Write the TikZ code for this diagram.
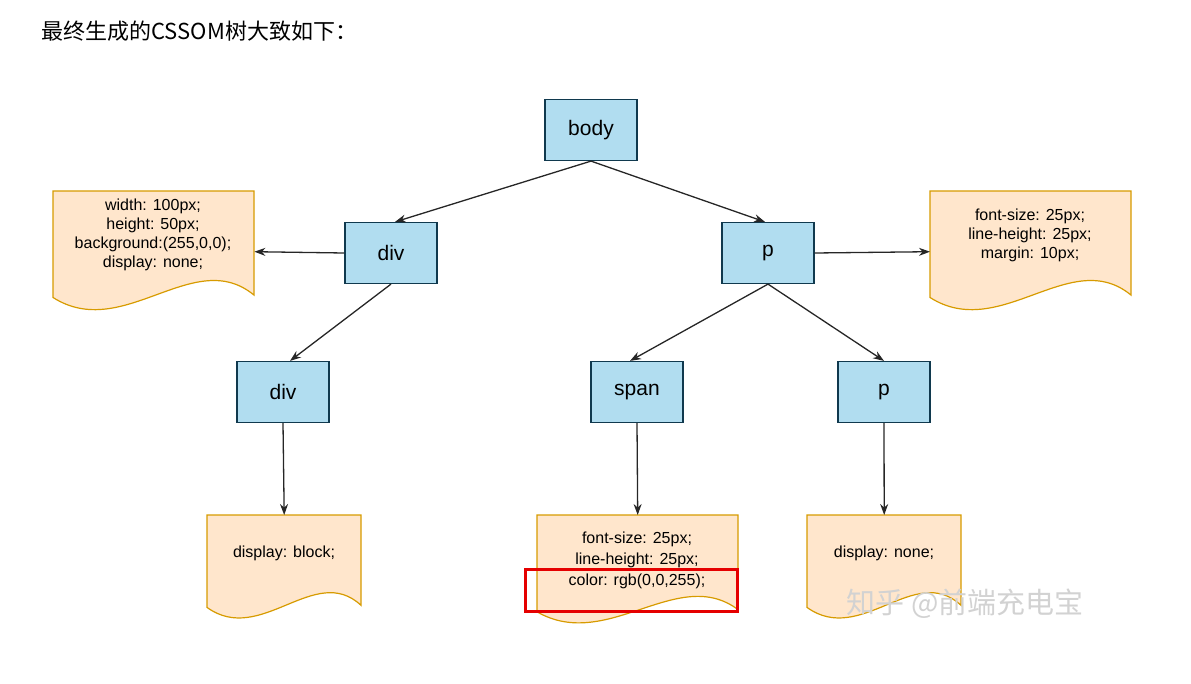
\documentclass[tikz,border=0pt]{standalone}
\usepackage{fontspec}
\setmainfont{Liberation Sans}
\newfontfamily\cjk{Noto Sans CJK SC}
\usetikzlibrary{arrows.meta}
\definecolor{bfill}{HTML}{B1DDF0}
\definecolor{bdraw}{HTML}{10394E}
\definecolor{dfill}{HTML}{FFE6CC}
\definecolor{ddraw}{HTML}{D79B00}
\tikzset{
  bx/.style={draw=bdraw,fill=bfill,line width=1.2pt,minimum width=92pt,minimum height=61pt,inner sep=0pt,font=\fontsize{21}{24}\selectfont},
  dc/.style={inner sep=0pt,font=\fontsize{16}{19}\selectfont,align=center},
  ar/.style={-{Stealth[length=11pt,width=8pt]},line width=1.3pt,black!85},
}
\newcommand{\docshape}[4]{% x1 y1 x2 y2 (y downward)
  \filldraw[fill=dfill,draw=ddraw,line width=1.2pt] (#1,#2) -- (#3,#2) -- (#3,{#4-0.14*(#4-#2)})
   .. controls ({#3-0.3*(#3-#1)},{#4-0.55*(#4-#2)}) and ({#1+0.35*(#3-#1)},{#4+0.25*(#4-#2)}) .. (#1,{#4-0.12*(#4-#2)}) -- cycle;}
\begin{document}
\begin{tikzpicture}[x=1pt,y=-1pt]
\useasboundingbox (0,0) rectangle (1191,683);
\node[anchor=west,font=\cjk\fontsize{22}{26}\selectfont] (title) at (38,31) {最终生成的CSSOM树大致如下：};

\node[bx] (body) at (591,130) {body};
\node[bx] (div1) at (391,253) {div};
\node[bx] (p1) at (768,253) {p};
\node[bx] (div2) at (283,392) {div};
\node[bx] (span) at (637,392) {span};
\node[bx] (p2) at (884,392) {p};

\docshape{53}{191}{254}{312}
\docshape{930}{191}{1131}{312}
\docshape{207}{515}{361}{620}
\docshape{537}{515}{738}{625}
\docshape{807}{515}{961}{620}

\node[dc,minimum width=201pt,minimum height=121pt,anchor=north west] (d1) at (53,191) {};
\node[dc] (t1) at (153,235) {width: 100px;\\height: 50px;\\background:(255,0,0);\\display: none;};
\node[dc,minimum width=201pt,minimum height=121pt,anchor=north west] (d2) at (930,191) {};
\node[dc] (t2) at (1030,235) {font-size: 25px;\\line-height: 25px;\\margin: 10px;};
\node[dc,minimum width=154pt,minimum height=105pt,anchor=north west] (d3) at (207,515) {};
\node[dc] (t3) at (284,553) {display: block;};
\node[dc,minimum width=201pt,minimum height=110pt,anchor=north west] (d4) at (537,515) {};
\node[dc,font=\fontsize{16}{21}\selectfont] (t4) at (637,560) {font-size: 25px;\\line-height: 25px;\\color: rgb(0,0,255);};
\node[dc,minimum width=154pt,minimum height=105pt,anchor=north west] (d5) at (807,515) {};
\node[dc] (t5) at (884,553) {display: none;};

\node[draw=red!90!black,line width=3pt,minimum width=212pt,minimum height=42pt,anchor=north west] (red) at (524,568) {};

\draw[ar] (body.south) -- ([xshift=4pt]div1.north);
\draw[ar] (body.south) -- ([xshift=-3pt]p1.north);
\draw[ar] (div1.west) -- (d1.east);
\draw[ar] (p1.east) -- (d2.west);
\draw[ar] (div1.south) -- ([xshift=7pt]div2.north);
\draw[ar] (p1.south) -- ([xshift=-7pt]span.north);
\draw[ar] (p1.south) -- (p2.north);
\draw[ar] (div2.south) -- (d3.north);
\draw[ar] (span.south) -- (d4.north);
\draw[ar] (p2.south) -- (d5.north);

\node[anchor=west,text=gray!35,font=\cjk\fontsize{29}{32}\selectfont] (wm) at (843,604) {知乎 @前端充电宝};
\end{tikzpicture}
\end{document}
